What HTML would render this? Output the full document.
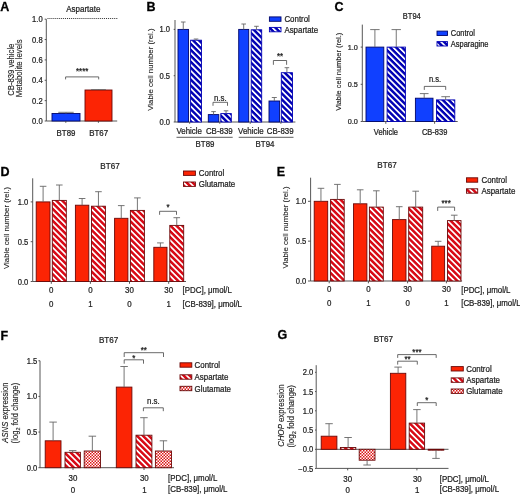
<!DOCTYPE html>
<html><head><meta charset="utf-8"><title>Figure</title>
<style>
html,body{margin:0;padding:0;background:#fff;}
body{width:520px;height:495px;overflow:hidden;}
svg{display:block;}
svg text{font-family:"Liberation Sans",Arial,sans-serif;fill:#222;stroke:#222;stroke-width:0.22px;}
svg text.L{fill:#000;stroke:#000;stroke-width:0.3px;}
svg text.V{stroke-width:0.12px;}
</style></head>
<body>
<svg width="520" height="495" viewBox="0 0 520 495">
<rect width="520" height="495" fill="#fff"/>
<defs>
<pattern id="hb" patternUnits="userSpaceOnUse" width="4.2" height="4.2" patternTransform="rotate(-45)">
<rect width="4.2" height="4.2" fill="#0000b4"/><rect x="0" y="0" width="1.75" height="4.2" fill="#fff"/></pattern>
<pattern id="hr" patternUnits="userSpaceOnUse" width="4.2" height="4.2" patternTransform="rotate(-45)">
<rect width="4.2" height="4.2" fill="#d80a16"/><rect x="0" y="0" width="1.7" height="4.2" fill="#fff"/></pattern>
<pattern id="cr" patternUnits="userSpaceOnUse" width="3" height="3">
<rect width="3" height="3" fill="#fff"/><rect x="0" y="0" width="1.5" height="1.5" fill="#dc1414"/><rect x="1.5" y="1.5" width="1.5" height="1.5" fill="#dc1414"/></pattern>
</defs>
<text class="L" x="0.30" y="11.15" font-size="12.5" font-weight="bold">A</text>
<text transform="translate(83.30,11.77) scale(1,1.1)" text-anchor="middle" font-size="8.0" font-weight="normal" >Aspartate</text>
<line x1="46.30" y1="19.20" x2="46.30" y2="121.00" stroke="#444" stroke-width="0.9" />
<line x1="44.70" y1="121.00" x2="46.30" y2="121.00" stroke="#444" stroke-width="0.9" />
<text transform="translate(42.60,124.01) scale(1,1.1)" text-anchor="end" font-size="7.6" font-weight="normal" >0.0</text>
<line x1="44.70" y1="100.64" x2="46.30" y2="100.64" stroke="#444" stroke-width="0.9" />
<text transform="translate(42.60,103.65) scale(1,1.1)" text-anchor="end" font-size="7.6" font-weight="normal" >0.2</text>
<line x1="44.70" y1="80.28" x2="46.30" y2="80.28" stroke="#444" stroke-width="0.9" />
<text transform="translate(42.60,83.29) scale(1,1.1)" text-anchor="end" font-size="7.6" font-weight="normal" >0.4</text>
<line x1="44.70" y1="59.92" x2="46.30" y2="59.92" stroke="#444" stroke-width="0.9" />
<text transform="translate(42.60,62.93) scale(1,1.1)" text-anchor="end" font-size="7.6" font-weight="normal" >0.6</text>
<line x1="44.70" y1="39.56" x2="46.30" y2="39.56" stroke="#444" stroke-width="0.9" />
<text transform="translate(42.60,42.57) scale(1,1.1)" text-anchor="end" font-size="7.6" font-weight="normal" >0.8</text>
<line x1="44.70" y1="19.20" x2="46.30" y2="19.20" stroke="#444" stroke-width="0.9" />
<text transform="translate(42.60,22.21) scale(1,1.1)" text-anchor="end" font-size="7.6" font-weight="normal" >1.0</text>
<line x1="46.30" y1="121.00" x2="117.20" y2="121.00" stroke="#444" stroke-width="0.9" />
<line x1="47.50" y1="18.50" x2="118.00" y2="18.50" stroke="#222" stroke-width="0.9" stroke-dasharray="1 0.95"/>
<rect x="52.00" y="113.50" width="28.00" height="7.50" fill="#1040ff" stroke="#00066a" stroke-width="0.9"/>
<line x1="66.00" y1="113.50" x2="66.00" y2="112.30" stroke="#666" stroke-width="0.9" />
<line x1="58.30" y1="112.30" x2="73.70" y2="112.30" stroke="#666" stroke-width="0.9" />
<rect x="85.00" y="90.00" width="27.00" height="31.00" fill="#fc2404" stroke="#6a0808" stroke-width="0.9"/>
<line x1="98.50" y1="90.00" x2="98.50" y2="89.60" stroke="#666" stroke-width="0.9" />
<line x1="91.08" y1="89.60" x2="105.92" y2="89.60" stroke="#666" stroke-width="0.9" />
<polyline points="65.60,79.40 65.60,76.90 98.70,76.90 98.70,79.40" fill="none" stroke="#444" stroke-width="0.8"/>
<text transform="translate(82.15,73.63) scale(1,1.1)" text-anchor="middle" font-size="7.9" font-weight="normal" >****</text>
<text transform="translate(66.00,136.13) scale(1,1.1)" text-anchor="middle" font-size="7.9" font-weight="normal" >BT89</text>
<text transform="translate(98.70,136.13) scale(1,1.1)" text-anchor="middle" font-size="7.9" font-weight="normal" >BT67</text>
<line x1="65.80" y1="121.00" x2="65.80" y2="122.80" stroke="#444" stroke-width="0.9" />
<line x1="98.40" y1="121.00" x2="98.40" y2="122.80" stroke="#444" stroke-width="0.9" />
<text class="V" transform="translate(13.99,69.70) rotate(-90) scale(1,1.08)" text-anchor="middle" font-size="7.7" >CB-839 vehicle</text>
<text class="V" transform="translate(22.43,68.30) rotate(-90) scale(1,1.08)" text-anchor="middle" font-size="7.8" >Metabolite levels</text>
<text class="L" x="146.50" y="11.35" font-size="12.5" font-weight="bold">B</text>
<line x1="175.00" y1="20.00" x2="175.00" y2="122.00" stroke="#444" stroke-width="0.9" />
<line x1="173.70" y1="122.00" x2="175.00" y2="122.00" stroke="#444" stroke-width="0.9" />
<text transform="translate(170.00,125.01) scale(1,1.1)" text-anchor="end" font-size="7.6" font-weight="normal" >0.0</text>
<line x1="173.70" y1="75.70" x2="175.00" y2="75.70" stroke="#444" stroke-width="0.9" />
<text transform="translate(170.00,78.71) scale(1,1.1)" text-anchor="end" font-size="7.6" font-weight="normal" >0.5</text>
<line x1="173.70" y1="29.40" x2="175.00" y2="29.40" stroke="#444" stroke-width="0.9" />
<text transform="translate(170.00,32.41) scale(1,1.1)" text-anchor="end" font-size="7.6" font-weight="normal" >1.0</text>
<line x1="175.00" y1="122.00" x2="295.40" y2="122.00" stroke="#444" stroke-width="0.9" />
<rect x="178.00" y="29.40" width="10.50" height="92.60" fill="#1040ff" stroke="#00066a" stroke-width="0.9"/>
<line x1="183.25" y1="29.40" x2="183.25" y2="22.00" stroke="#666" stroke-width="0.9" />
<line x1="180.95" y1="22.00" x2="185.55" y2="22.00" stroke="#666" stroke-width="0.9" />
<rect x="190.60" y="40.20" width="10.90" height="81.80" fill="url(#hb)" stroke="#0000b4" stroke-width="0.9"/>
<line x1="196.05" y1="40.20" x2="196.05" y2="39.00" stroke="#666" stroke-width="0.9" />
<line x1="193.75" y1="39.00" x2="198.35" y2="39.00" stroke="#666" stroke-width="0.9" />
<rect x="208.30" y="114.60" width="10.50" height="7.40" fill="#1040ff" stroke="#00066a" stroke-width="0.9"/>
<line x1="213.55" y1="114.60" x2="213.55" y2="111.60" stroke="#666" stroke-width="0.9" />
<line x1="211.25" y1="111.60" x2="215.85" y2="111.60" stroke="#666" stroke-width="0.9" />
<rect x="220.80" y="113.60" width="10.50" height="8.40" fill="url(#hb)" stroke="#0000b4" stroke-width="0.9"/>
<line x1="226.05" y1="113.60" x2="226.05" y2="110.80" stroke="#666" stroke-width="0.9" />
<line x1="223.75" y1="110.80" x2="228.35" y2="110.80" stroke="#666" stroke-width="0.9" />
<rect x="238.70" y="29.40" width="10.00" height="92.60" fill="#1040ff" stroke="#00066a" stroke-width="0.9"/>
<line x1="243.70" y1="29.40" x2="243.70" y2="24.00" stroke="#666" stroke-width="0.9" />
<line x1="241.40" y1="24.00" x2="246.00" y2="24.00" stroke="#666" stroke-width="0.9" />
<rect x="251.20" y="29.80" width="10.50" height="92.20" fill="url(#hb)" stroke="#0000b4" stroke-width="0.9"/>
<line x1="256.45" y1="29.80" x2="256.45" y2="26.30" stroke="#666" stroke-width="0.9" />
<line x1="254.15" y1="26.30" x2="258.75" y2="26.30" stroke="#666" stroke-width="0.9" />
<rect x="269.00" y="101.00" width="10.60" height="21.00" fill="#1040ff" stroke="#00066a" stroke-width="0.9"/>
<line x1="274.30" y1="101.00" x2="274.30" y2="97.50" stroke="#666" stroke-width="0.9" />
<line x1="271.80" y1="97.50" x2="276.80" y2="97.50" stroke="#666" stroke-width="0.9" />
<rect x="281.30" y="72.70" width="11.20" height="49.30" fill="url(#hb)" stroke="#0000b4" stroke-width="0.9"/>
<line x1="286.90" y1="72.70" x2="286.90" y2="67.70" stroke="#666" stroke-width="0.9" />
<line x1="284.60" y1="67.70" x2="289.20" y2="67.70" stroke="#666" stroke-width="0.9" />
<polyline points="213.00,105.80 213.00,102.30 227.50,102.30 227.50,105.80" fill="none" stroke="#444" stroke-width="0.8"/>
<text transform="translate(220.25,100.73) scale(1,1.1)" text-anchor="middle" font-size="7.9" font-weight="normal" >n.s.</text>
<polyline points="273.40,64.80 273.40,60.50 286.60,60.50 286.60,64.80" fill="none" stroke="#444" stroke-width="0.8"/>
<text transform="translate(280.00,59.13) scale(1,1.1)" text-anchor="middle" font-size="7.9" font-weight="normal" >**</text>
<text transform="translate(189.20,133.93) scale(1,1.1)" text-anchor="middle" font-size="7.9" font-weight="normal" >Vehicle</text>
<text transform="translate(219.30,133.93) scale(1,1.1)" text-anchor="middle" font-size="7.9" font-weight="normal" >CB-839</text>
<text transform="translate(250.80,133.93) scale(1,1.1)" text-anchor="middle" font-size="7.9" font-weight="normal" >Vehicle</text>
<text transform="translate(280.20,133.93) scale(1,1.1)" text-anchor="middle" font-size="7.9" font-weight="normal" >CB-839</text>
<line x1="189.70" y1="122.00" x2="189.70" y2="123.80" stroke="#444" stroke-width="0.9" />
<line x1="219.80" y1="122.00" x2="219.80" y2="123.80" stroke="#444" stroke-width="0.9" />
<line x1="250.20" y1="122.00" x2="250.20" y2="123.80" stroke="#444" stroke-width="0.9" />
<line x1="280.90" y1="122.00" x2="280.90" y2="123.80" stroke="#444" stroke-width="0.9" />
<line x1="176.50" y1="137.30" x2="232.70" y2="137.30" stroke="#333" stroke-width="0.8" />
<line x1="238.70" y1="137.30" x2="293.50" y2="137.30" stroke="#333" stroke-width="0.8" />
<text transform="translate(205.00,146.93) scale(1,1.1)" text-anchor="middle" font-size="7.9" font-weight="normal" >BT89</text>
<text transform="translate(265.00,146.93) scale(1,1.1)" text-anchor="middle" font-size="7.9" font-weight="normal" >BT94</text>
<rect x="269.40" y="16.90" width="11.60" height="4.40" fill="#1040ff" stroke="#00066a" stroke-width="0.9"/>
<text transform="translate(284.40,22.23) scale(1,1.1)" text-anchor="start" font-size="7.9" font-weight="normal" >Control</text>
<rect x="269.40" y="27.40" width="11.60" height="4.40" fill="url(#hb)" stroke="#0000b4" stroke-width="0.9"/>
<text transform="translate(284.40,32.73) scale(1,1.1)" text-anchor="start" font-size="7.9" font-weight="normal" >Aspartate</text>
<text class="V" transform="translate(153.11,69.60) rotate(-90) scale(1,1.0)" text-anchor="middle" font-size="7.8" >Viable cell number (rel.)</text>
<text class="L" x="334.50" y="11.35" font-size="12.5" font-weight="bold">C</text>
<text transform="translate(411.80,18.87) scale(1,1.1)" text-anchor="middle" font-size="7.5" font-weight="normal" >BT94</text>
<line x1="362.30" y1="24.60" x2="362.30" y2="121.50" stroke="#444" stroke-width="0.9" />
<line x1="360.70" y1="121.50" x2="362.30" y2="121.50" stroke="#444" stroke-width="0.9" />
<text transform="translate(357.90,124.39) scale(1,1.1)" text-anchor="end" font-size="7.3" font-weight="normal" >0.0</text>
<line x1="360.70" y1="84.30" x2="362.30" y2="84.30" stroke="#444" stroke-width="0.9" />
<text transform="translate(357.90,87.19) scale(1,1.1)" text-anchor="end" font-size="7.3" font-weight="normal" >0.5</text>
<line x1="360.70" y1="47.10" x2="362.30" y2="47.10" stroke="#444" stroke-width="0.9" />
<text transform="translate(357.90,49.99) scale(1,1.1)" text-anchor="end" font-size="7.3" font-weight="normal" >1.0</text>
<line x1="362.30" y1="121.50" x2="457.70" y2="121.50" stroke="#444" stroke-width="0.9" />
<line x1="385.80" y1="121.50" x2="385.80" y2="123.80" stroke="#444" stroke-width="0.9" />
<line x1="434.60" y1="121.50" x2="434.60" y2="123.80" stroke="#444" stroke-width="0.9" />
<rect x="366.00" y="47.10" width="17.80" height="74.40" fill="#1040ff" stroke="#00066a" stroke-width="0.9"/>
<line x1="374.90" y1="47.10" x2="374.90" y2="29.60" stroke="#666" stroke-width="0.9" />
<line x1="370.20" y1="29.60" x2="379.60" y2="29.60" stroke="#666" stroke-width="0.9" />
<rect x="387.10" y="47.10" width="18.30" height="74.40" fill="url(#hb)" stroke="#0000b4" stroke-width="0.9"/>
<line x1="396.25" y1="47.10" x2="396.25" y2="29.60" stroke="#666" stroke-width="0.9" />
<line x1="391.55" y1="29.60" x2="400.95" y2="29.60" stroke="#666" stroke-width="0.9" />
<rect x="415.40" y="98.20" width="17.60" height="23.30" fill="#1040ff" stroke="#00066a" stroke-width="0.9"/>
<line x1="424.20" y1="98.20" x2="424.20" y2="93.60" stroke="#666" stroke-width="0.9" />
<line x1="419.85" y1="93.60" x2="428.55" y2="93.60" stroke="#666" stroke-width="0.9" />
<rect x="436.50" y="99.90" width="18.30" height="21.60" fill="url(#hb)" stroke="#0000b4" stroke-width="0.9"/>
<line x1="445.65" y1="99.90" x2="445.65" y2="96.70" stroke="#666" stroke-width="0.9" />
<line x1="441.30" y1="96.70" x2="450.00" y2="96.70" stroke="#666" stroke-width="0.9" />
<polyline points="424.30,89.90 424.30,86.40 445.70,86.40 445.70,89.90" fill="none" stroke="#444" stroke-width="0.8"/>
<text transform="translate(435.00,81.91) scale(1,1.1)" text-anchor="middle" font-size="7.6" font-weight="normal" >n.s.</text>
<text transform="translate(385.90,134.67) scale(1,1.1)" text-anchor="middle" font-size="7.5" font-weight="normal" >Vehicle</text>
<text transform="translate(434.60,134.67) scale(1,1.1)" text-anchor="middle" font-size="7.5" font-weight="normal" >CB-839</text>
<rect x="437.00" y="31.10" width="10.50" height="4.40" fill="#1040ff" stroke="#00066a" stroke-width="0.9"/>
<text transform="translate(450.80,36.25) scale(1,1.1)" text-anchor="start" font-size="7.45" font-weight="normal" >Control</text>
<rect x="437.00" y="41.60" width="10.50" height="4.40" fill="url(#hb)" stroke="#0000b4" stroke-width="0.9"/>
<text transform="translate(450.80,46.75) scale(1,1.1)" text-anchor="start" font-size="7.45" font-weight="normal" >Asparagine</text>
<text class="V" transform="translate(341.26,71.80) rotate(-90) scale(1,1.0)" text-anchor="middle" font-size="7.4" >Viable cell number (rel.)</text>
<text class="L" x="0.50" y="175.85" font-size="12.5" font-weight="bold">D</text>
<text transform="translate(110.00,168.61) scale(1,1.1)" text-anchor="middle" font-size="8.1" font-weight="normal" >BT67</text>
<line x1="32.70" y1="178.30" x2="32.70" y2="281.50" stroke="#444" stroke-width="0.9" />
<line x1="30.70" y1="281.50" x2="32.70" y2="281.50" stroke="#444" stroke-width="0.9" />
<text transform="translate(28.30,284.51) scale(1,1.1)" text-anchor="end" font-size="7.6" font-weight="normal" >0.0</text>
<line x1="30.70" y1="241.70" x2="32.70" y2="241.70" stroke="#444" stroke-width="0.9" />
<text transform="translate(28.30,244.71) scale(1,1.1)" text-anchor="end" font-size="7.6" font-weight="normal" >0.5</text>
<line x1="30.70" y1="201.90" x2="32.70" y2="201.90" stroke="#444" stroke-width="0.9" />
<text transform="translate(28.30,204.91) scale(1,1.1)" text-anchor="end" font-size="7.6" font-weight="normal" >1.0</text>
<line x1="32.70" y1="281.50" x2="186.00" y2="281.50" stroke="#444" stroke-width="0.9" />
<rect x="36.20" y="201.90" width="13.80" height="79.60" fill="#fc2404" stroke="#6a0808" stroke-width="0.9"/>
<line x1="43.10" y1="201.90" x2="43.10" y2="186.30" stroke="#666" stroke-width="0.9" />
<line x1="39.80" y1="186.30" x2="46.40" y2="186.30" stroke="#666" stroke-width="0.9" />
<rect x="52.30" y="200.40" width="14.00" height="81.10" fill="url(#hr)" stroke="#6a0808" stroke-width="0.9"/>
<line x1="59.30" y1="200.40" x2="59.30" y2="185.00" stroke="#666" stroke-width="0.9" />
<line x1="56.00" y1="185.00" x2="62.60" y2="185.00" stroke="#666" stroke-width="0.9" />
<rect x="75.40" y="205.20" width="13.40" height="76.30" fill="#fc2404" stroke="#6a0808" stroke-width="0.9"/>
<line x1="82.10" y1="205.20" x2="82.10" y2="198.50" stroke="#666" stroke-width="0.9" />
<line x1="78.80" y1="198.50" x2="85.40" y2="198.50" stroke="#666" stroke-width="0.9" />
<rect x="91.50" y="206.20" width="13.90" height="75.30" fill="url(#hr)" stroke="#6a0808" stroke-width="0.9"/>
<line x1="98.45" y1="206.20" x2="98.45" y2="191.70" stroke="#666" stroke-width="0.9" />
<line x1="95.15" y1="191.70" x2="101.75" y2="191.70" stroke="#666" stroke-width="0.9" />
<rect x="114.60" y="218.30" width="13.30" height="63.20" fill="#fc2404" stroke="#6a0808" stroke-width="0.9"/>
<line x1="121.25" y1="218.30" x2="121.25" y2="205.60" stroke="#666" stroke-width="0.9" />
<line x1="117.95" y1="205.60" x2="124.55" y2="205.60" stroke="#666" stroke-width="0.9" />
<rect x="130.40" y="210.40" width="14.00" height="71.10" fill="url(#hr)" stroke="#6a0808" stroke-width="0.9"/>
<line x1="137.40" y1="210.40" x2="137.40" y2="197.90" stroke="#666" stroke-width="0.9" />
<line x1="134.10" y1="197.90" x2="140.70" y2="197.90" stroke="#666" stroke-width="0.9" />
<rect x="153.80" y="247.30" width="13.20" height="34.20" fill="#fc2404" stroke="#6a0808" stroke-width="0.9"/>
<line x1="160.40" y1="247.30" x2="160.40" y2="242.90" stroke="#666" stroke-width="0.9" />
<line x1="157.10" y1="242.90" x2="163.70" y2="242.90" stroke="#666" stroke-width="0.9" />
<rect x="169.80" y="225.40" width="13.90" height="56.10" fill="url(#hr)" stroke="#6a0808" stroke-width="0.9"/>
<line x1="176.75" y1="225.40" x2="176.75" y2="217.70" stroke="#666" stroke-width="0.9" />
<line x1="173.45" y1="217.70" x2="180.05" y2="217.70" stroke="#666" stroke-width="0.9" />
<line x1="51.30" y1="281.50" x2="51.30" y2="283.80" stroke="#444" stroke-width="0.9" />
<line x1="90.40" y1="281.50" x2="90.40" y2="283.80" stroke="#444" stroke-width="0.9" />
<line x1="129.50" y1="281.50" x2="129.50" y2="283.80" stroke="#444" stroke-width="0.9" />
<line x1="168.70" y1="281.50" x2="168.70" y2="283.80" stroke="#444" stroke-width="0.9" />
<text transform="translate(51.30,292.83) scale(1,1.1)" text-anchor="middle" font-size="7.9" font-weight="normal" >0</text>
<text transform="translate(51.30,306.93) scale(1,1.1)" text-anchor="middle" font-size="7.9" font-weight="normal" >0</text>
<text transform="translate(90.40,292.83) scale(1,1.1)" text-anchor="middle" font-size="7.9" font-weight="normal" >0</text>
<text transform="translate(90.40,306.93) scale(1,1.1)" text-anchor="middle" font-size="7.9" font-weight="normal" >1</text>
<text transform="translate(129.50,292.83) scale(1,1.1)" text-anchor="middle" font-size="7.9" font-weight="normal" >30</text>
<text transform="translate(129.50,306.93) scale(1,1.1)" text-anchor="middle" font-size="7.9" font-weight="normal" >0</text>
<text transform="translate(168.70,292.83) scale(1,1.1)" text-anchor="middle" font-size="7.9" font-weight="normal" >30</text>
<text transform="translate(168.70,306.93) scale(1,1.1)" text-anchor="middle" font-size="7.9" font-weight="normal" >1</text>
<text transform="translate(182.60,293.03) scale(1,1.1)" text-anchor="start" font-size="7.9" font-weight="normal" >[PDC], μmol/L</text>
<text transform="translate(182.60,306.93) scale(1,1.1)" text-anchor="start" font-size="7.9" font-weight="normal" >[CB-839], μmol/L</text>
<polyline points="159.60,214.80 159.60,211.30 176.50,211.30 176.50,214.80" fill="none" stroke="#444" stroke-width="0.8"/>
<text transform="translate(168.05,209.93) scale(1,1.1)" text-anchor="middle" font-size="7.9" font-weight="normal" >*</text>
<rect x="183.50" y="171.00" width="11.90" height="4.40" fill="#fc2404" stroke="#6a0808" stroke-width="0.9"/>
<text transform="translate(198.80,176.33) scale(1,1.1)" text-anchor="start" font-size="7.9" font-weight="normal" >Control</text>
<rect x="183.50" y="182.00" width="11.90" height="4.40" fill="url(#hr)" stroke="#6a0808" stroke-width="0.9"/>
<text transform="translate(198.80,187.33) scale(1,1.1)" text-anchor="start" font-size="7.9" font-weight="normal" >Glutamate</text>
<text class="V" transform="translate(9.11,227.90) rotate(-90) scale(1,1.0)" text-anchor="middle" font-size="7.8" >Viable cell number (rel.)</text>
<text class="L" x="276.80" y="176.15" font-size="12.5" font-weight="bold">E</text>
<text transform="translate(387.00,167.81) scale(1,1.1)" text-anchor="middle" font-size="8.1" font-weight="normal" >BT67</text>
<line x1="310.60" y1="177.70" x2="310.60" y2="281.00" stroke="#444" stroke-width="0.9" />
<line x1="308.00" y1="281.00" x2="310.60" y2="281.00" stroke="#444" stroke-width="0.9" />
<text transform="translate(306.20,284.01) scale(1,1.1)" text-anchor="end" font-size="7.6" font-weight="normal" >0.0</text>
<line x1="308.00" y1="241.15" x2="310.60" y2="241.15" stroke="#444" stroke-width="0.9" />
<text transform="translate(306.20,244.16) scale(1,1.1)" text-anchor="end" font-size="7.6" font-weight="normal" >0.5</text>
<line x1="308.00" y1="201.30" x2="310.60" y2="201.30" stroke="#444" stroke-width="0.9" />
<text transform="translate(306.20,204.31) scale(1,1.1)" text-anchor="end" font-size="7.6" font-weight="normal" >1.0</text>
<line x1="310.60" y1="281.00" x2="462.10" y2="281.00" stroke="#444" stroke-width="0.9" />
<rect x="314.20" y="201.30" width="13.50" height="79.70" fill="#fc2404" stroke="#6a0808" stroke-width="0.9"/>
<line x1="320.95" y1="201.30" x2="320.95" y2="188.30" stroke="#666" stroke-width="0.9" />
<line x1="317.65" y1="188.30" x2="324.25" y2="188.30" stroke="#666" stroke-width="0.9" />
<rect x="330.60" y="199.40" width="13.60" height="81.60" fill="url(#hr)" stroke="#6a0808" stroke-width="0.9"/>
<line x1="337.40" y1="199.40" x2="337.40" y2="184.40" stroke="#666" stroke-width="0.9" />
<line x1="334.10" y1="184.40" x2="340.70" y2="184.40" stroke="#666" stroke-width="0.9" />
<rect x="353.50" y="203.80" width="13.40" height="77.20" fill="#fc2404" stroke="#6a0808" stroke-width="0.9"/>
<line x1="360.20" y1="203.80" x2="360.20" y2="189.80" stroke="#666" stroke-width="0.9" />
<line x1="356.90" y1="189.80" x2="363.50" y2="189.80" stroke="#666" stroke-width="0.9" />
<rect x="369.40" y="207.10" width="13.90" height="73.90" fill="url(#hr)" stroke="#6a0808" stroke-width="0.9"/>
<line x1="376.35" y1="207.10" x2="376.35" y2="190.80" stroke="#666" stroke-width="0.9" />
<line x1="373.05" y1="190.80" x2="379.65" y2="190.80" stroke="#666" stroke-width="0.9" />
<rect x="392.50" y="219.60" width="13.50" height="61.40" fill="#fc2404" stroke="#6a0808" stroke-width="0.9"/>
<line x1="399.25" y1="219.60" x2="399.25" y2="206.70" stroke="#666" stroke-width="0.9" />
<line x1="395.95" y1="206.70" x2="402.55" y2="206.70" stroke="#666" stroke-width="0.9" />
<rect x="408.70" y="207.10" width="14.00" height="73.90" fill="url(#hr)" stroke="#6a0808" stroke-width="0.9"/>
<line x1="415.70" y1="207.10" x2="415.70" y2="191.20" stroke="#666" stroke-width="0.9" />
<line x1="412.40" y1="191.20" x2="419.00" y2="191.20" stroke="#666" stroke-width="0.9" />
<rect x="431.70" y="246.20" width="12.90" height="34.80" fill="#fc2404" stroke="#6a0808" stroke-width="0.9"/>
<line x1="438.15" y1="246.20" x2="438.15" y2="241.30" stroke="#666" stroke-width="0.9" />
<line x1="434.85" y1="241.30" x2="441.45" y2="241.30" stroke="#666" stroke-width="0.9" />
<rect x="447.50" y="220.60" width="13.50" height="60.40" fill="url(#hr)" stroke="#6a0808" stroke-width="0.9"/>
<line x1="454.25" y1="220.60" x2="454.25" y2="215.20" stroke="#666" stroke-width="0.9" />
<line x1="450.95" y1="215.20" x2="457.55" y2="215.20" stroke="#666" stroke-width="0.9" />
<line x1="329.20" y1="281.00" x2="329.20" y2="283.30" stroke="#444" stroke-width="0.9" />
<line x1="368.40" y1="281.00" x2="368.40" y2="283.30" stroke="#444" stroke-width="0.9" />
<line x1="407.60" y1="281.00" x2="407.60" y2="283.30" stroke="#444" stroke-width="0.9" />
<line x1="446.40" y1="281.00" x2="446.40" y2="283.30" stroke="#444" stroke-width="0.9" />
<text transform="translate(329.20,291.93) scale(1,1.1)" text-anchor="middle" font-size="7.9" font-weight="normal" >0</text>
<text transform="translate(329.20,306.13) scale(1,1.1)" text-anchor="middle" font-size="7.9" font-weight="normal" >0</text>
<text transform="translate(368.40,291.93) scale(1,1.1)" text-anchor="middle" font-size="7.9" font-weight="normal" >0</text>
<text transform="translate(368.40,306.13) scale(1,1.1)" text-anchor="middle" font-size="7.9" font-weight="normal" >1</text>
<text transform="translate(407.60,291.93) scale(1,1.1)" text-anchor="middle" font-size="7.9" font-weight="normal" >30</text>
<text transform="translate(407.60,306.13) scale(1,1.1)" text-anchor="middle" font-size="7.9" font-weight="normal" >0</text>
<text transform="translate(446.40,291.93) scale(1,1.1)" text-anchor="middle" font-size="7.9" font-weight="normal" >30</text>
<text transform="translate(446.40,306.13) scale(1,1.1)" text-anchor="middle" font-size="7.9" font-weight="normal" >1</text>
<text transform="translate(461.20,293.13) scale(1,1.1)" text-anchor="start" font-size="7.9" font-weight="normal" >[PDC], μmol/L</text>
<text transform="translate(461.20,306.33) scale(1,1.1)" text-anchor="start" font-size="7.9" font-weight="normal" >[CB-839], μmol/L</text>
<polyline points="437.70,210.90 437.70,207.10 454.60,207.10 454.60,210.90" fill="none" stroke="#444" stroke-width="0.8"/>
<text transform="translate(446.15,205.63) scale(1,1.1)" text-anchor="middle" font-size="7.9" font-weight="normal" >***</text>
<rect x="466.50" y="177.80" width="11.20" height="4.40" fill="#fc2404" stroke="#6a0808" stroke-width="0.9"/>
<text transform="translate(481.50,183.13) scale(1,1.1)" text-anchor="start" font-size="7.9" font-weight="normal" >Control</text>
<rect x="466.50" y="188.80" width="11.20" height="4.40" fill="url(#hr)" stroke="#6a0808" stroke-width="0.9"/>
<text transform="translate(481.50,194.13) scale(1,1.1)" text-anchor="start" font-size="7.9" font-weight="normal" >Aspartate</text>
<text class="V" transform="translate(287.51,227.50) rotate(-90) scale(1,1.0)" text-anchor="middle" font-size="7.8" >Viable cell number (rel.)</text>
<text class="L" x="0.50" y="340.35" font-size="12.5" font-weight="bold">F</text>
<text transform="translate(108.60,343.01) scale(1,1.1)" text-anchor="middle" font-size="8.1" font-weight="normal" >BT67</text>
<line x1="40.00" y1="360.75" x2="40.00" y2="467.70" stroke="#444" stroke-width="0.9" />
<line x1="38.40" y1="467.70" x2="40.00" y2="467.70" stroke="#444" stroke-width="0.9" />
<text transform="translate(37.20,470.71) scale(1,1.1)" text-anchor="end" font-size="7.6" font-weight="normal" >0.0</text>
<line x1="38.40" y1="432.05" x2="40.00" y2="432.05" stroke="#444" stroke-width="0.9" />
<text transform="translate(37.20,435.06) scale(1,1.1)" text-anchor="end" font-size="7.6" font-weight="normal" >0.5</text>
<line x1="38.40" y1="396.40" x2="40.00" y2="396.40" stroke="#444" stroke-width="0.9" />
<text transform="translate(37.20,399.41) scale(1,1.1)" text-anchor="end" font-size="7.6" font-weight="normal" >1.0</text>
<line x1="38.40" y1="360.75" x2="40.00" y2="360.75" stroke="#444" stroke-width="0.9" />
<text transform="translate(37.20,363.76) scale(1,1.1)" text-anchor="end" font-size="7.6" font-weight="normal" >1.5</text>
<line x1="40.00" y1="467.70" x2="174.00" y2="467.70" stroke="#444" stroke-width="0.9" />
<rect x="45.20" y="440.80" width="15.80" height="26.90" fill="#fc2404" stroke="#6a0808" stroke-width="0.9"/>
<line x1="53.10" y1="440.80" x2="53.10" y2="422.10" stroke="#666" stroke-width="0.9" />
<line x1="49.35" y1="422.10" x2="56.85" y2="422.10" stroke="#666" stroke-width="0.9" />
<rect x="65.00" y="452.30" width="15.40" height="15.40" fill="url(#hr)" stroke="#6a0808" stroke-width="0.9"/>
<line x1="72.70" y1="452.30" x2="72.70" y2="450.60" stroke="#666" stroke-width="0.9" />
<line x1="68.95" y1="450.60" x2="76.45" y2="450.60" stroke="#666" stroke-width="0.9" />
<rect x="84.20" y="451.00" width="16.30" height="16.70" fill="url(#cr)" stroke="#6a0808" stroke-width="0.9"/>
<line x1="92.35" y1="451.00" x2="92.35" y2="436.20" stroke="#666" stroke-width="0.9" />
<line x1="88.60" y1="436.20" x2="96.10" y2="436.20" stroke="#666" stroke-width="0.9" />
<rect x="116.30" y="387.10" width="15.60" height="80.60" fill="#fc2404" stroke="#6a0808" stroke-width="0.9"/>
<line x1="124.10" y1="387.10" x2="124.10" y2="366.50" stroke="#666" stroke-width="0.9" />
<line x1="120.35" y1="366.50" x2="127.85" y2="366.50" stroke="#666" stroke-width="0.9" />
<rect x="136.00" y="435.20" width="15.90" height="32.50" fill="url(#hr)" stroke="#6a0808" stroke-width="0.9"/>
<line x1="143.95" y1="435.20" x2="143.95" y2="417.70" stroke="#666" stroke-width="0.9" />
<line x1="140.20" y1="417.70" x2="147.70" y2="417.70" stroke="#666" stroke-width="0.9" />
<rect x="155.40" y="451.00" width="16.10" height="16.70" fill="url(#cr)" stroke="#6a0808" stroke-width="0.9"/>
<line x1="163.45" y1="451.00" x2="163.45" y2="440.80" stroke="#666" stroke-width="0.9" />
<line x1="159.70" y1="440.80" x2="167.20" y2="440.80" stroke="#666" stroke-width="0.9" />
<line x1="73.00" y1="467.70" x2="73.00" y2="470.00" stroke="#444" stroke-width="0.9" />
<line x1="144.00" y1="467.70" x2="144.00" y2="470.00" stroke="#444" stroke-width="0.9" />
<text transform="translate(73.00,481.43) scale(1,1.1)" text-anchor="middle" font-size="7.9" font-weight="normal" >30</text>
<text transform="translate(144.30,481.43) scale(1,1.1)" text-anchor="middle" font-size="7.9" font-weight="normal" >30</text>
<text transform="translate(73.00,492.73) scale(1,1.1)" text-anchor="middle" font-size="7.9" font-weight="normal" >0</text>
<text transform="translate(144.50,492.73) scale(1,1.1)" text-anchor="middle" font-size="7.9" font-weight="normal" >1</text>
<text transform="translate(168.10,481.43) scale(1,1.1)" text-anchor="start" font-size="7.9" font-weight="normal" >[PDC], μmol/L</text>
<text transform="translate(168.10,491.93) scale(1,1.1)" text-anchor="start" font-size="7.9" font-weight="normal" >[CB-839], μmol/L</text>
<polyline points="124.20,357.00 124.20,352.70 163.50,352.70 163.50,357.00" fill="none" stroke="#444" stroke-width="0.8"/>
<text transform="translate(143.85,353.13) scale(1,1.1)" text-anchor="middle" font-size="7.9" font-weight="normal" >**</text>
<polyline points="124.20,363.70 124.20,359.80 143.50,359.80 143.50,363.70" fill="none" stroke="#444" stroke-width="0.8"/>
<text transform="translate(133.85,360.93) scale(1,1.1)" text-anchor="middle" font-size="7.9" font-weight="normal" >*</text>
<polyline points="143.40,411.20 143.40,407.80 163.30,407.80 163.30,411.20" fill="none" stroke="#444" stroke-width="0.8"/>
<text transform="translate(153.35,403.93) scale(1,1.1)" text-anchor="middle" font-size="7.9" font-weight="normal" >n.s.</text>
<rect x="180.00" y="362.80" width="11.80" height="4.40" fill="#fc2404" stroke="#6a0808" stroke-width="0.9"/>
<text transform="translate(194.60,368.13) scale(1,1.1)" text-anchor="start" font-size="7.9" font-weight="normal" >Control</text>
<rect x="180.00" y="374.80" width="11.80" height="4.40" fill="url(#hr)" stroke="#6a0808" stroke-width="0.9"/>
<text transform="translate(194.60,380.13) scale(1,1.1)" text-anchor="start" font-size="7.9" font-weight="normal" >Aspartate</text>
<rect x="180.00" y="386.30" width="11.80" height="4.40" fill="url(#cr)" stroke="#6a0808" stroke-width="0.9"/>
<text transform="translate(194.60,391.63) scale(1,1.1)" text-anchor="start" font-size="7.9" font-weight="normal" >Glutamate</text>
<text class="V" transform="translate(7.99,412.50) rotate(-90) scale(1,1.08)" text-anchor="middle" font-size="7.7" ><tspan font-style="italic">ASNS</tspan> expression</text>
<text class="V" transform="translate(18.21,413.10) rotate(-90) scale(1,1.08)" text-anchor="middle" font-size="7.75" >(log<tspan font-size="5.4" dy="1.6">2</tspan><tspan dy="-1.6"> fold change)</tspan></text>
<text class="L" x="277.60" y="339.35" font-size="12.5" font-weight="bold">G</text>
<text transform="translate(383.30,342.41) scale(1,1.1)" text-anchor="middle" font-size="8.1" font-weight="normal" >BT67</text>
<line x1="316.20" y1="365.20" x2="316.20" y2="468.40" stroke="#444" stroke-width="0.9" />
<line x1="315.00" y1="468.55" x2="316.20" y2="468.55" stroke="#444" stroke-width="0.9" />
<text transform="translate(313.30,471.56) scale(1,1.1)" text-anchor="end" font-size="7.6" font-weight="normal" >−0.5</text>
<line x1="315.00" y1="449.30" x2="316.20" y2="449.30" stroke="#444" stroke-width="0.9" />
<text transform="translate(313.30,452.31) scale(1,1.1)" text-anchor="end" font-size="7.6" font-weight="normal" >0.0</text>
<line x1="315.00" y1="430.05" x2="316.20" y2="430.05" stroke="#444" stroke-width="0.9" />
<text transform="translate(313.30,433.06) scale(1,1.1)" text-anchor="end" font-size="7.6" font-weight="normal" >0.5</text>
<line x1="315.00" y1="410.80" x2="316.20" y2="410.80" stroke="#444" stroke-width="0.9" />
<text transform="translate(313.30,413.81) scale(1,1.1)" text-anchor="end" font-size="7.6" font-weight="normal" >1.0</text>
<line x1="315.00" y1="391.55" x2="316.20" y2="391.55" stroke="#444" stroke-width="0.9" />
<text transform="translate(313.30,394.56) scale(1,1.1)" text-anchor="end" font-size="7.6" font-weight="normal" >1.5</text>
<line x1="315.00" y1="372.30" x2="316.20" y2="372.30" stroke="#444" stroke-width="0.9" />
<text transform="translate(313.30,375.31) scale(1,1.1)" text-anchor="end" font-size="7.6" font-weight="normal" >2.0</text>
<line x1="316.20" y1="468.40" x2="448.50" y2="468.40" stroke="#444" stroke-width="0.9" />
<line x1="316.20" y1="449.30" x2="448.50" y2="449.30" stroke="#444" stroke-width="0.9" />
<rect x="321.20" y="436.20" width="15.70" height="13.10" fill="#fc2404" stroke="#6a0808" stroke-width="0.9"/>
<line x1="329.05" y1="436.20" x2="329.05" y2="423.70" stroke="#666" stroke-width="0.9" />
<line x1="325.30" y1="423.70" x2="332.80" y2="423.70" stroke="#666" stroke-width="0.9" />
<rect x="340.40" y="447.50" width="15.40" height="1.80" fill="url(#hr)" stroke="#6a0808" stroke-width="0.9"/>
<line x1="348.10" y1="447.50" x2="348.10" y2="437.50" stroke="#666" stroke-width="0.9" />
<line x1="344.35" y1="437.50" x2="351.85" y2="437.50" stroke="#666" stroke-width="0.9" />
<rect x="359.20" y="449.30" width="15.80" height="10.90" fill="url(#cr)" stroke="#6a0808" stroke-width="0.9"/>
<line x1="367.10" y1="460.20" x2="367.10" y2="465.00" stroke="#666" stroke-width="0.9" />
<line x1="363.35" y1="465.00" x2="370.85" y2="465.00" stroke="#666" stroke-width="0.9" />
<rect x="390.40" y="373.30" width="15.40" height="76.00" fill="#fc2404" stroke="#6a0808" stroke-width="0.9"/>
<line x1="398.10" y1="373.30" x2="398.10" y2="367.10" stroke="#666" stroke-width="0.9" />
<line x1="394.35" y1="367.10" x2="401.85" y2="367.10" stroke="#666" stroke-width="0.9" />
<rect x="409.20" y="423.10" width="15.40" height="26.20" fill="url(#hr)" stroke="#6a0808" stroke-width="0.9"/>
<line x1="416.90" y1="423.10" x2="416.90" y2="409.60" stroke="#666" stroke-width="0.9" />
<line x1="413.15" y1="409.60" x2="420.65" y2="409.60" stroke="#666" stroke-width="0.9" />
<rect x="428.20" y="449.30" width="15.60" height="0.90" fill="url(#cr)" stroke="#6a0808" stroke-width="0.9"/>
<line x1="436.00" y1="450.20" x2="436.00" y2="458.40" stroke="#666" stroke-width="0.9" />
<line x1="432.25" y1="458.40" x2="439.75" y2="458.40" stroke="#666" stroke-width="0.9" />
<line x1="347.70" y1="468.40" x2="347.70" y2="470.40" stroke="#444" stroke-width="0.9" />
<line x1="416.90" y1="468.40" x2="416.90" y2="470.40" stroke="#444" stroke-width="0.9" />
<text transform="translate(347.70,481.63) scale(1,1.1)" text-anchor="middle" font-size="7.9" font-weight="normal" >30</text>
<text transform="translate(417.30,481.63) scale(1,1.1)" text-anchor="middle" font-size="7.9" font-weight="normal" >30</text>
<text transform="translate(347.70,492.63) scale(1,1.1)" text-anchor="middle" font-size="7.9" font-weight="normal" >0</text>
<text transform="translate(417.30,492.63) scale(1,1.1)" text-anchor="middle" font-size="7.9" font-weight="normal" >1</text>
<text transform="translate(439.70,481.63) scale(1,1.1)" text-anchor="start" font-size="7.9" font-weight="normal" >[PDC], μmol/L</text>
<text transform="translate(439.70,492.13) scale(1,1.1)" text-anchor="start" font-size="7.9" font-weight="normal" >[CB-839], μmol/L</text>
<polyline points="397.70,357.90 397.70,354.60 436.20,354.60 436.20,357.90" fill="none" stroke="#444" stroke-width="0.8"/>
<text transform="translate(416.95,355.13) scale(1,1.1)" text-anchor="middle" font-size="7.9" font-weight="normal" >***</text>
<polyline points="397.70,364.60 397.70,361.20 417.30,361.20 417.30,364.60" fill="none" stroke="#444" stroke-width="0.8"/>
<text transform="translate(407.50,361.73) scale(1,1.1)" text-anchor="middle" font-size="7.9" font-weight="normal" >**</text>
<polyline points="417.30,406.00 417.30,402.70 436.20,402.70 436.20,406.00" fill="none" stroke="#444" stroke-width="0.8"/>
<text transform="translate(426.75,403.13) scale(1,1.1)" text-anchor="middle" font-size="7.9" font-weight="normal" >*</text>
<rect x="451.20" y="366.60" width="12.10" height="4.40" fill="#fc2404" stroke="#6a0808" stroke-width="0.9"/>
<text transform="translate(466.20,371.93) scale(1,1.1)" text-anchor="start" font-size="7.9" font-weight="normal" >Control</text>
<rect x="451.20" y="377.90" width="12.10" height="4.40" fill="url(#hr)" stroke="#6a0808" stroke-width="0.9"/>
<text transform="translate(466.20,383.23) scale(1,1.1)" text-anchor="start" font-size="7.9" font-weight="normal" >Aspartate</text>
<rect x="451.20" y="389.00" width="12.10" height="4.40" fill="url(#cr)" stroke="#6a0808" stroke-width="0.9"/>
<text transform="translate(466.20,394.33) scale(1,1.1)" text-anchor="start" font-size="7.9" font-weight="normal" >Glutamate</text>
<text class="V" transform="translate(283.73,415.50) rotate(-90) scale(1,1.08)" text-anchor="middle" font-size="7.8" ><tspan font-style="italic">CHOP</tspan> expression</text>
<text class="V" transform="translate(293.91,416.30) rotate(-90) scale(1,1.08)" text-anchor="middle" font-size="8.0" >(log<tspan font-size="5.6" dy="1.7">2</tspan><tspan dy="-1.7"> fold change)</tspan></text>
</svg>
</body></html>
